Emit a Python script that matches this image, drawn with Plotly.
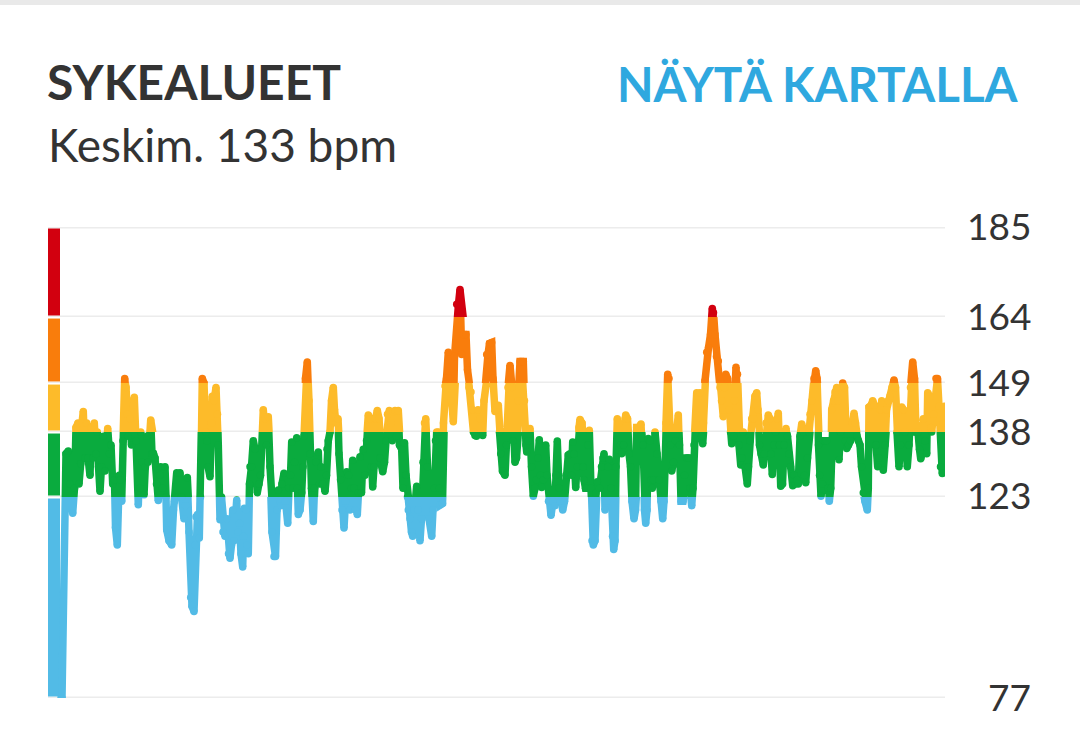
from plotly import graph_objs as go

# heart rate trace, (time, bpm)
hr_samples = [
    (13, 77), (14, 77), (18, 133), (20.3, 133.6), (22, 126), (24.7, 119.3), (26.5, 125), (28, 139), (30, 140), (31, 126),
    (32.7, 130.7), (34, 140), (35.3, 142.6), (37, 132), (38.7, 140), (40, 132), (42, 128), (43.5, 139), (45, 132), (46.3, 140),
    (48, 133), (49.3, 138), (50.5, 130), (52, 124.3), (53.5, 130), (55.3, 137), (57, 129), (59.7, 138.8), (61.5, 133), (63, 135),
    (64.7, 126), (66.5, 127), (67.5, 116), (69.3, 112), (71.3, 128), (72.5, 127), (73.7, 122), (75, 136), (76.7, 150), (78, 148),
    (79.5, 142), (80.3, 137), (82, 141), (83.5, 135), (85, 144), (86.3, 145.8), (88, 136), (90.3, 121.2), (92, 125), (92.7, 138),
    (94, 131), (96, 123.5), (97.5, 130), (98.7, 137), (100, 131), (102.7, 140.7), (104, 133), (105.5, 133), (107, 132), (108.5, 126),
    (110.3, 122.2), (112, 128), (112.7, 130), (114.5, 125), (117, 130), (118, 123), (118.7, 115.5), (121, 113), (123.7, 112), (125.5, 120),
    (126.5, 122), (128.7, 128.6), (130, 123), (132, 128.6), (133.5, 123), (136, 118), (137.5, 121), (139.3, 127.5), (141, 115), (142.7, 100),
    (144, 98), (146, 96.8), (147.3, 112), (148, 118.5), (149.5, 119), (151.3, 113.6), (152.5, 123), (154.3, 150), (156, 149), (157.7, 138),
    (159, 136), (160, 130), (162, 127.7), (163.5, 140), (164.3, 146), (166, 145), (168, 148), (169.5, 142), (170.3, 135), (172, 117.8),
    (173.5, 123), (175, 115), (177, 114), (179, 118), (180.5, 110), (182, 109), (183.5, 112), (184.7, 120), (186, 113), (188.7, 122.3),
    (190, 115), (191.5, 117), (193, 110), (194.7, 107), (195.5, 114), (196.3, 120.4), (198, 120), (199, 112), (200.3, 110), (201.5, 126),
    (202, 130), (203.5, 130), (205.3, 136), (207, 134), (209.3, 124), (211, 126), (212.5, 128), (215.3, 143), (217, 141), (218.5, 135),
    (220.3, 141.4), (222, 130), (224, 115), (226, 109.4), (227.5, 109.4), (229, 120), (230.3, 124.6), (232, 122), (233, 121), (234, 126),
    (236, 128.5), (237.5, 122), (239.7, 117), (241, 125), (242.5, 128), (243.7, 135.7), (245, 125), (246.5, 131), (248.7, 136.7), (249.5, 125),
    (250.3, 119), (252, 120), (253.7, 124), (255, 130), (256, 137), (257.5, 150), (259.3, 153.8), (261, 145), (262, 133), (263.5, 125),
    (265.3, 117.4), (266.5, 125), (268, 131), (270.3, 133.4), (271.5, 126), (273, 130), (274.5, 126), (277, 124.3), (278.5, 128), (279, 134),
    (280.3, 136), (282, 138), (283.5, 145), (285.3, 148), (286.5, 143), (288, 140), (290, 141), (291, 133), (292.5, 127), (294, 120),
    (296, 115.9), (297.5, 122), (298.7, 128.8), (300.5, 128), (302, 120), (303.5, 125), (304.7, 131.5), (306, 125), (307.5, 120), (309.3, 119),
    (310.5, 124), (312, 132.3), (313.5, 124), (315.3, 134), (317, 128), (318.5, 136), (320.3, 141.8), (322, 141), (323.5, 130), (324.7, 125.3),
    (326, 130), (327.5, 141), (329.3, 142.8), (331, 141), (332, 132), (334.7, 128.8), (336.5, 131), (338, 136), (339.5, 142), (341.3, 142.8),
    (343, 140), (344.3, 136), (345.5, 142.5), (347, 142.8), (348.5, 137), (350.3, 142.8), (351.5, 135), (353.7, 134), (355, 125), (356.5, 135.5),
    (358, 128), (359.5, 123), (360.3, 120), (362, 118), (363.5, 115), (364.7, 114), (366.5, 120), (368.7, 125.5), (370, 120), (372, 113),
    (373.5, 118), (375, 131), (376.5, 140), (377.7, 141), (379.5, 130), (381, 118), (383.7, 114), (385, 120), (386.5, 125), (387.5, 136),
    (388.7, 138), (390.5, 138), (391.5, 125), (392.5, 121.2), (394.5, 121.5), (395.5, 140), (397, 148.3), (398.5, 150), (400.3, 156), (402, 150),
    (403, 145), (405.3, 140.3), (406.5, 155), (408.7, 167), (410.5, 167), (412, 170.4), (413.7, 155.5), (415.5, 160), (418, 160), (419.5, 152),
    (421, 148), (423, 147), (424.5, 143), (425.5, 138), (427, 137.2), (428.5, 137), (430, 143), (432, 141), (434.7, 137.2), (436, 145),
    (438.7, 155.5), (440, 155.5), (441.5, 158), (443.7, 158.2), (445, 150), (447, 142.6), (448.5, 143), (450.3, 144), (451.5, 138), (452.7, 133),
    (454.5, 129), (457, 128), (458.5, 135), (460, 148), (462, 153), (464, 148), (465, 136), (467, 131), (468.5, 132), (470, 145),
    (472, 153.9), (473.5, 153.9), (475.3, 153.9), (476.5, 145), (478, 135), (478.7, 133.4), (480.3, 136), (482, 138.8), (483.5, 130), (485.3, 123.2),
    (487, 125), (488.5, 127), (490, 132), (491.3, 136.2), (492.5, 128), (493.7, 125.2), (495.5, 127), (497.7, 135), (499, 128), (500.5, 122),
    (503, 118.8), (505, 122), (507, 121), (508, 128), (509.3, 135.9), (511, 125), (512.5, 122), (514.7, 120), (516.5, 122), (518, 128),
    (520.3, 132.7), (522, 133), (523.5, 128), (524.7, 135.7), (526, 133), (527.7, 125.2), (529.5, 130), (531, 139), (532, 140.8), (534, 140),
    (535, 130), (536, 127), (537.5, 125), (538.7, 125), (540, 135), (541.3, 138.4), (543, 125), (544, 113), (545.3, 112), (547, 113),
    (548, 124), (549.3, 126.5), (551.5, 125), (553.5, 130), (555, 132), (556, 133), (557, 120), (558.5, 122), (560, 130), (561.3, 131.7),
    (563, 125), (564.5, 114), (565.7, 111), (567, 113), (568, 130), (569.3, 141), (571, 140), (572.5, 135), (573.7, 133), (575.5, 135),
    (577, 141), (577.7, 141.8), (579.5, 141), (581, 133), (582.5, 130), (584, 122), (586, 118), (587.5, 120), (588.7, 139), (591, 139),
    (593, 139.8), (595, 135), (596.5, 120), (597.7, 117), (599, 120), (600.3, 136.5), (602, 136), (603, 127), (604.3, 125), (605.5, 127),
    (607, 138), (609, 133), (611, 127), (613, 122), (614.7, 118), (616, 122), (618, 140), (619.7, 151), (621, 150), (622.5, 135),
    (623.7, 129), (625.5, 131), (627.5, 136), (630.3, 141.8), (631.5, 135), (633, 122), (635, 122), (636.5, 128), (638.7, 132), (640.5, 132),
    (642, 125), (643.7, 121), (645, 125), (646, 135), (648.7, 146.8), (650.5, 146), (652, 146.8), (653.5, 137), (654.7, 135.3), (655.5, 140),
    (657, 149.5), (658.7, 156), (660.5, 157), (662.5, 160), (664.3, 166), (665.5, 165), (667, 160), (668.5, 155), (670.3, 154), (672, 148),
    (673.5, 145), (675.3, 141.4), (676.5, 148), (677.7, 151), (679.5, 150), (681, 143), (682.5, 138), (683.7, 135.3), (685.5, 137), (686.5, 145),
    (688, 152.6), (689.5, 151), (691, 135), (692.7, 130.4), (694, 132), (695.3, 138), (697, 130), (699.3, 126), (700.5, 130), (702, 136),
    (703.7, 141), (705.5, 141), (707, 146), (708.7, 146.8), (710, 143), (711.5, 135), (713, 133), (715.3, 130.4), (716.5, 133), (718, 140),
    (720.3, 141.8), (722, 141), (723, 133), (724.3, 128.2), (726, 135), (727.5, 138), (729, 141), (730.3, 142.2), (731.5, 135), (732.7, 125.5),
    (734.5, 126), (736, 135), (738, 138.8), (739.5, 137), (741, 133), (742.5, 130), (744.7, 125.6), (746, 128), (747.5, 126), (749, 127),
    (750.3, 126), (752, 137), (753.7, 139.8), (755.5, 138), (756.5, 128), (757.7, 126.3), (759.5, 132), (761, 138), (762, 142), (764, 145),
    (766, 150), (767.7, 151.8), (769, 150), (770.5, 135), (771.5, 128), (773, 123.2), (774.5, 126), (775.5, 136), (777, 136), (778.5, 136),
    (780, 125), (781.3, 122), (782.7, 125), (783.7, 143), (785.5, 145), (787, 147), (788.7, 148), (790, 145), (791, 131.6), (792.5, 138),
    (794.7, 149), (796.5, 148), (797.5, 136), (798.7, 134.2), (800.5, 135), (802.5, 136), (804.5, 140), (806, 142.2), (807.5, 140), (809, 137),
    (810.3, 136), (812, 135), (813.5, 130), (815.3, 124), (817, 122), (819.3, 120), (820.3, 125), (821, 143.6), (823, 144), (824.7, 145),
    (826.5, 144), (828, 135), (829.7, 130), (831, 132), (832.5, 143), (833.7, 145), (835.3, 129.2), (837, 135), (838.5, 143), (840.3, 145),
    (842, 146), (844, 148), (846, 149.7), (847.5, 148), (849, 138), (851, 130), (852.5, 135), (853.7, 143.6), (855.5, 143), (857, 138),
    (859.3, 130), (861, 135), (862.5, 148), (864.7, 153.8), (866.5, 150), (868, 138), (870, 138), (871.5, 134), (872.7, 131.8), (874, 133),
    (875.3, 141), (877, 136), (878.7, 133), (879.7, 146.8), (881.5, 146), (883, 139), (883.7, 138), (885.5, 142), (888, 150), (889.5, 150),
    (891, 143.8), (892.5, 130), (894.3, 128.4), (895.5, 140), (896.3, 143.8),
]
time_s = [s[0] for s in hr_samples]
bpm = [s[1] for s in hr_samples]

# zones, bottom to top
zone_limits = [77, 123, 138, 149, 164, 185]
zone_colors = ['#52bbe6', '#0aab3e', '#fdbb2a', '#f97d0c', '#d2000f']
tick_labels = ['77', '123', '138', '149', '164', '185']

W = 1080
H = 731
tick_px = [698, 497, 432, 383, 317, 227]  # pixel row of each zone limit
bar_gap = 0.35
line_w = 7.5

fig = go.Figure()
layout_axes = {}
shapes = [dict(type='rect', xref='paper', yref='paper', x0=0, x1=1, y0=1 - 5 / H, y1=1,
               fillcolor='#e9e9e9', line_width=0)]
for i, color in enumerate(zone_colors):
    lo = zone_limits[i]
    hi = zone_limits[i + 1]
    name = 'y' if i == 0 else f'y{i + 1}'
    # same trace in every zone, the axis range clips it to that band
    fig.add_bar(x=[6], y=[hi - lo - 2 * bar_gap], base=[lo + bar_gap], width=[12], marker_color=color,
                marker_line_width=0, xaxis='x', yaxis=name, showlegend=False, hoverinfo='skip')
    fig.add_scatter(x=time_s, y=bpm, mode='lines+markers', line=dict(color=color, width=line_w),
                    marker=dict(color=color, size=line_w), xaxis='x', yaxis=name, showlegend=False)
    layout_axes['yaxis' if i == 0 else f'yaxis{i + 1}'] = dict(
        domain=[1 - tick_px[i] / H, 1 - tick_px[i + 1] / H],
        range=[lo, hi],
        anchor='x',
        showticklabels=False,
        ticks='',
        showgrid=False,
        zeroline=False,
        showline=False,
    )
    # plotly drops grid lines sitting on the range ends, so they are shapes here
    shapes.append(dict(type='line', layer='below', xref='x', yref=name, x0=0, x1=897, y0=lo, y1=lo,
                       line=dict(color='#ececec', width=3)))
shapes.append(dict(type='line', layer='below', xref='x', yref='y5', x0=0, x1=897, y0=185, y1=185,
                   line=dict(color='#ececec', width=3)))

# tick labels right aligned, plotly would left align them on a right side axis
annotations = []
for i, label in enumerate(tick_labels):
    annotations.append(dict(text=label, xref='paper', x=1033 / W, xanchor='right',
                            yref='paper', y=1 - (tick_px[i] - 2) / H, yanchor='middle', showarrow=False,
                            font=dict(family='Lato', size=37, color='#333333')))
annotations.append(dict(text='Keskim. 133 bpm', xref='paper', x=46 / W, xanchor='left',
                        yref='paper', y=1 - 144 / H, yanchor='middle', showarrow=False,
                        font=dict(family='Lato', size=46, color='#333333')))
annotations.append(dict(text='<b>NÄYTÄ KARTALLA</b>', xref='paper', x=1021 / W, xanchor='right',
                        yref='paper', y=1 - 83 / H, yanchor='middle', showarrow=False,
                        font=dict(family='Lato', size=47.5, color='#2fa8df')))

fig.update_layout(
    width=W,
    height=H,
    margin=dict(l=0, r=0, t=0, b=0),
    paper_bgcolor='white',
    plot_bgcolor='white',
    title=dict(text='<b>SYKEALUEET</b>', x=47 / W, xanchor='left', y=1 - 83 / H, yanchor='middle',
               font=dict(family='Lato', size=48, color='#333333')),
    xaxis=dict(domain=[48 / W, 945 / W], range=[0, 897], visible=False),
    annotations=annotations,
    shapes=shapes,
    **layout_axes,
)

fig.write_html("out.html", config={'displayModeBar': False}, post_script="document.body.style.margin='0';")
